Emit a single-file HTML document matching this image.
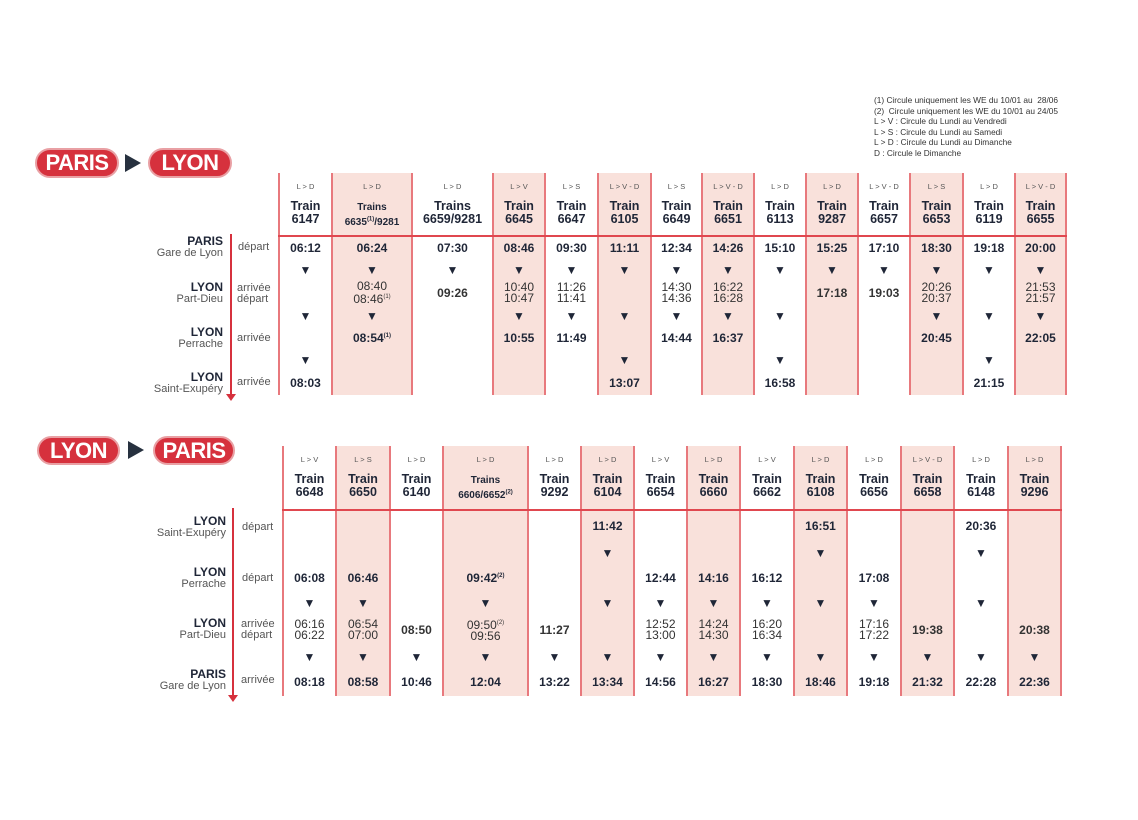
<!DOCTYPE html>
<html><head><meta charset="utf-8"><style>
body{margin:0;width:1138px;height:820px;background:#fff;position:relative;font-family:"Liberation Sans",sans-serif;color:#1f2637;overflow:hidden}
.abs{position:absolute}
.pill{position:absolute;background:#d6313d;color:#fff;font-weight:bold;font-size:22px;border-radius:15px;text-align:center;border:2px solid #e9a0a4;box-sizing:border-box;letter-spacing:-0.5px}
.tri{position:absolute;width:0;height:0;border-top:9px solid transparent;border-bottom:9px solid transparent;border-left:16px solid #27313f}
.legend{position:absolute;left:874px;top:95px;font-size:8.3px;line-height:10.6px;color:#333}
table{position:absolute;border-collapse:collapse;table-layout:fixed}
td{padding:0;text-align:center;vertical-align:middle;font-size:12px;overflow:visible;white-space:nowrap}
td.p{background:#f9e1db;border-left:2px solid #e8797d;border-right:2px solid #e8797d}
td.f{border-left:2px solid #e8797d}
tr.h td{border-bottom:2px solid #e0474f;vertical-align:top}
.d{display:block;font-size:7.5px;color:#555;margin-top:9px;height:14px}
.t{display:block;font-weight:bold;font-size:12.5px;line-height:13px;margin-top:4px}
.t small{font-size:10px}
b{font-weight:bold}
.two{font-size:12px;line-height:11px;color:#333}
.v{font-size:9px}
sup{font-size:6px}
.st{position:absolute;text-align:right;font-size:11px;line-height:11px;color:#555}
.st b{color:#1f2637;font-size:12px}
.lb{position:absolute;font-size:11px;line-height:11px;color:#555}
.arr{position:absolute;width:2px;background:#d6313d}
.ah{position:absolute;width:0;height:0;border-left:5px solid transparent;border-right:5px solid transparent;border-top:7px solid #d6313d}
</style></head><body>
<div class="legend">(1) Circule uniquement les WE du 10/01 au&nbsp; 28/06<br>(2)&nbsp; Circule uniquement les WE du 10/01 au 24/05<br>L &gt; V : Circule du Lundi au Vendredi<br>L &gt; S : Circule du Lundi au Samedi<br>L &gt; D : Circule du Lundi au Dimanche<br>D : Circule le Dimanche</div>

<div class="pill" style="left:35px;top:148px;width:84px;height:30px;line-height:26px">PARIS</div>
<div class="tri" style="left:125px;top:154px"></div>
<div class="pill" style="left:148px;top:148px;width:84px;height:30px;line-height:26px">LYON</div>

<div class="pill" style="left:37px;top:436px;width:83px;height:29px;line-height:25px">LYON</div>
<div class="tri" style="left:128px;top:441px"></div>
<div class="pill" style="left:153px;top:436px;width:82px;height:29px;line-height:25px">PARIS</div>

<!-- top left labels -->
<div class="arr" style="left:230px;top:234px;height:160px"></div><div class="ah" style="left:226px;top:394px"></div>
<div class="st" style="left:100px;width:123px;top:236px"><b>PARIS</b><br>Gare de Lyon</div>
<div class="st" style="left:100px;width:123px;top:282px"><b>LYON</b><br>Part-Dieu</div>
<div class="st" style="left:100px;width:123px;top:327px"><b>LYON</b><br>Perrache</div>
<div class="st" style="left:100px;width:123px;top:372px"><b>LYON</b><br>Saint-Exupéry</div>
<div class="lb" style="left:238px;top:242px">départ</div>
<div class="lb" style="left:237px;top:283px">arrivée<br>départ</div>
<div class="lb" style="left:237px;top:333px">arrivée</div>
<div class="lb" style="left:237px;top:377px">arrivée</div>

<table style="left:278px;top:173px;width:787px">
<colgroup><col style="width:53px"><col style="width:80px"><col style="width:81px"><col style="width:52px"><col style="width:53px"><col style="width:53px"><col style="width:51px"><col style="width:52px"><col style="width:52px"><col style="width:52px"><col style="width:52px"><col style="width:53px"><col style="width:52px"><col style="width:51px"></colgroup>
<tr class="h" style="height:63px"><td class="f"><span class="d">L &gt; D</span><span class="t">Train<br>6147</span></td><td class="p"><span class="d">L &gt; D</span><span class="t"><small>Trains</small><br><small>6635<sup>(1)</sup>/9281</small></span></td><td><span class="d">L &gt; D</span><span class="t">Trains<br>6659/9281</span></td><td class="p"><span class="d">L &gt; V</span><span class="t">Train<br>6645</span></td><td><span class="d">L &gt; S</span><span class="t">Train<br>6647</span></td><td class="p"><span class="d">L &gt; V - D</span><span class="t">Train<br>6105</span></td><td><span class="d">L &gt; S</span><span class="t">Train<br>6649</span></td><td class="p"><span class="d">L &gt; V - D</span><span class="t">Train<br>6651</span></td><td><span class="d">L &gt; D</span><span class="t">Train<br>6113</span></td><td class="p"><span class="d">L &gt; D</span><span class="t">Train<br>9287</span></td><td><span class="d">L &gt; V - D</span><span class="t">Train<br>6657</span></td><td class="p"><span class="d">L &gt; S</span><span class="t">Train<br>6653</span></td><td><span class="d">L &gt; D</span><span class="t">Train<br>6119</span></td><td class="p"><span class="d">L &gt; V - D</span><span class="t">Train<br>6655</span></td></tr>
<tr style="height:22px"><td class="f"><b>06:12</b></td><td class="p"><b>06:24</b></td><td><b>07:30</b></td><td class="p"><b>08:46</b></td><td><b>09:30</b></td><td class="p"><b>11:11</b></td><td><b>12:34</b></td><td class="p"><b>14:26</b></td><td><b>15:10</b></td><td class="p"><b>15:25</b></td><td><b>17:10</b></td><td class="p"><b>18:30</b></td><td><b>19:18</b></td><td class="p"><b>20:00</b></td></tr>
<tr style="height:23px" class="v"><td class="f">▼</td><td class="p">▼</td><td>▼</td><td class="p">▼</td><td>▼</td><td class="p">▼</td><td>▼</td><td class="p">▼</td><td>▼</td><td class="p">▼</td><td>▼</td><td class="p">▼</td><td>▼</td><td class="p">▼</td></tr>
<tr style="height:24px" class="two"><td class="f"></td><td class="p">08:40<br>08:46<sup>(1)</sup></td><td><b>09:26</b></td><td class="p">10:40<br>10:47</td><td>11:26<br>11:41</td><td class="p"></td><td>14:30<br>14:36</td><td class="p">16:22<br>16:28</td><td></td><td class="p"><b>17:18</b></td><td><b>19:03</b></td><td class="p">20:26<br>20:37</td><td></td><td class="p">21:53<br>21:57</td></tr>
<tr style="height:22px" class="v"><td class="f">▼</td><td class="p">▼</td><td></td><td class="p">▼</td><td>▼</td><td class="p">▼</td><td>▼</td><td class="p">▼</td><td>▼</td><td class="p"></td><td></td><td class="p">▼</td><td>▼</td><td class="p">▼</td></tr>
<tr style="height:22px"><td class="f"></td><td class="p"><b>08:54<sup>(1)</sup></b></td><td></td><td class="p"><b>10:55</b></td><td><b>11:49</b></td><td class="p"></td><td><b>14:44</b></td><td class="p"><b>16:37</b></td><td></td><td class="p"></td><td></td><td class="p"><b>20:45</b></td><td></td><td class="p"><b>22:05</b></td></tr>
<tr style="height:22px" class="v"><td class="f">▼</td><td class="p"></td><td></td><td class="p"></td><td></td><td class="p">▼</td><td></td><td class="p"></td><td>▼</td><td class="p"></td><td></td><td class="p"></td><td>▼</td><td class="p"></td></tr>
<tr style="height:24px"><td class="f"><b>08:03</b></td><td class="p"></td><td></td><td class="p"></td><td></td><td class="p"><b>13:07</b></td><td></td><td class="p"></td><td><b>16:58</b></td><td class="p"></td><td></td><td class="p"></td><td><b>21:15</b></td><td class="p"></td></tr>
</table>

<!-- bottom left labels -->
<div class="arr" style="left:232px;top:508px;height:187px"></div><div class="ah" style="left:228px;top:695px"></div>
<div class="st" style="left:100px;width:126px;top:516px"><b>LYON</b><br>Saint-Exupéry</div>
<div class="st" style="left:100px;width:126px;top:567px"><b>LYON</b><br>Perrache</div>
<div class="st" style="left:100px;width:126px;top:618px"><b>LYON</b><br>Part-Dieu</div>
<div class="st" style="left:100px;width:126px;top:669px"><b>PARIS</b><br>Gare de Lyon</div>
<div class="lb" style="left:242px;top:522px">départ</div>
<div class="lb" style="left:242px;top:573px">départ</div>
<div class="lb" style="left:241px;top:619px">arrivée<br>départ</div>
<div class="lb" style="left:241px;top:675px">arrivée</div>

<table style="left:282px;top:446px;width:778px">
<colgroup><col style="width:53px"><col style="width:54px"><col style="width:53px"><col style="width:85px"><col style="width:53px"><col style="width:53px"><col style="width:53px"><col style="width:53px"><col style="width:54px"><col style="width:53px"><col style="width:54px"><col style="width:53px"><col style="width:54px"><col style="width:53px"></colgroup>
<tr class="h" style="height:64px"><td class="f"><span class="d">L &gt; V</span><span class="t">Train<br>6648</span></td><td class="p"><span class="d">L &gt; S</span><span class="t">Train<br>6650</span></td><td><span class="d">L &gt; D</span><span class="t">Train<br>6140</span></td><td class="p"><span class="d">L &gt; D</span><span class="t"><small>Trains</small><br><small>6606/6652<sup>(2)</sup></small></span></td><td><span class="d">L &gt; D</span><span class="t">Train<br>9292</span></td><td class="p"><span class="d">L &gt; D</span><span class="t">Train<br>6104</span></td><td><span class="d">L &gt; V</span><span class="t">Train<br>6654</span></td><td class="p"><span class="d">L &gt; D</span><span class="t">Train<br>6660</span></td><td><span class="d">L &gt; V</span><span class="t">Train<br>6662</span></td><td class="p"><span class="d">L &gt; D</span><span class="t">Train<br>6108</span></td><td><span class="d">L &gt; D</span><span class="t">Train<br>6656</span></td><td class="p"><span class="d">L &gt; V - D</span><span class="t">Train<br>6658</span></td><td><span class="d">L &gt; D</span><span class="t">Train<br>6148</span></td><td class="p"><span class="d">L &gt; D</span><span class="t">Train<br>9296</span></td></tr>
<tr style="height:30px"><td class="f"></td><td class="p"></td><td></td><td class="p"></td><td></td><td class="p"><b>11:42</b></td><td></td><td class="p"></td><td></td><td class="p"><b>16:51</b></td><td></td><td class="p"></td><td><b>20:36</b></td><td class="p"></td></tr>
<tr style="height:25px" class="v"><td class="f"></td><td class="p"></td><td></td><td class="p"></td><td></td><td class="p">▼</td><td></td><td class="p"></td><td></td><td class="p">▼</td><td></td><td class="p"></td><td>▼</td><td class="p"></td></tr>
<tr style="height:26px"><td class="f"><b>06:08</b></td><td class="p"><b>06:46</b></td><td></td><td class="p"><b>09:42<sup>(2)</sup></b></td><td></td><td class="p"></td><td><b>12:44</b></td><td class="p"><b>14:16</b></td><td><b>16:12</b></td><td class="p"></td><td><b>17:08</b></td><td class="p"></td><td></td><td class="p"></td></tr>
<tr style="height:24px" class="v"><td class="f">▼</td><td class="p">▼</td><td></td><td class="p">▼</td><td></td><td class="p">▼</td><td>▼</td><td class="p">▼</td><td>▼</td><td class="p">▼</td><td>▼</td><td class="p"></td><td>▼</td><td class="p"></td></tr>
<tr style="height:30px" class="two"><td class="f">06:16<br>06:22</td><td class="p">06:54<br>07:00</td><td><b>08:50</b></td><td class="p">09:50<sup>(2)</sup><br>09:56</td><td><b>11:27</b></td><td class="p"></td><td>12:52<br>13:00</td><td class="p">14:24<br>14:30</td><td>16:20<br>16:34</td><td class="p"></td><td>17:16<br>17:22</td><td class="p"><b>19:38</b></td><td></td><td class="p"><b>20:38</b></td></tr>
<tr style="height:23px" class="v"><td class="f">▼</td><td class="p">▼</td><td>▼</td><td class="p">▼</td><td>▼</td><td class="p">▼</td><td>▼</td><td class="p">▼</td><td>▼</td><td class="p">▼</td><td>▼</td><td class="p">▼</td><td>▼</td><td class="p">▼</td></tr>
<tr style="height:28px"><td class="f"><b>08:18</b></td><td class="p"><b>08:58</b></td><td><b>10:46</b></td><td class="p"><b>12:04</b></td><td><b>13:22</b></td><td class="p"><b>13:34</b></td><td><b>14:56</b></td><td class="p"><b>16:27</b></td><td><b>18:30</b></td><td class="p"><b>18:46</b></td><td><b>19:18</b></td><td class="p"><b>21:32</b></td><td><b>22:28</b></td><td class="p"><b>22:36</b></td></tr>
</table>
</body></html>
